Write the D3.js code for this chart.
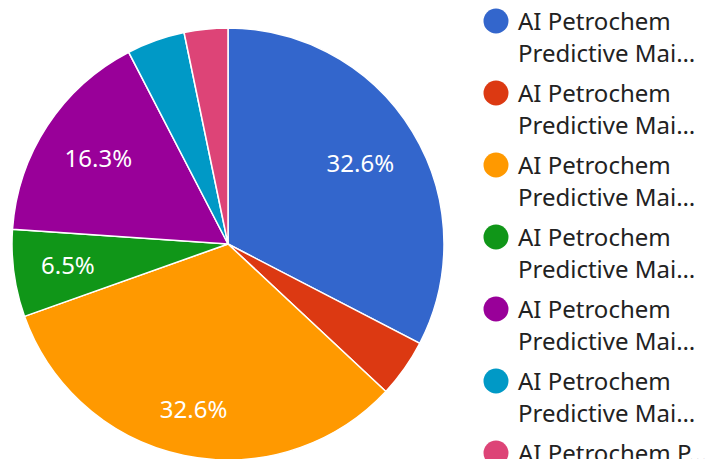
<!DOCTYPE html>
<html>
<head>
<meta charset="utf-8">
<script src="https://cdn.jsdelivr.net/npm/d3@7"></script>
<style>
  html, body { margin: 0; padding: 0; background: #fff; overflow: hidden; }
  svg { display: block; font-family: "Noto Sans", "Open Sans", sans-serif; }
</style>
</head>
<body>
<div id="chart"></div>
<script>
// Slice data
const categories = [
  "AI Petrochem Predictive Maintenance - Pumps",
  "AI Petrochem Predictive Maintenance - Valves",
  "AI Petrochem Predictive Maintenance - Compressors",
  "AI Petrochem Predictive Maintenance - Heat Exchangers",
  "AI Petrochem Predictive Maintenance - Turbines",
  "AI Petrochem Predictive Maintenance - Pipelines",
  "AI Petrochem Predictive Maintenance - Reactors"
];
const values = [30, 4, 30, 6, 15, 4, 3];
const colors = ["#3366cc", "#dc3912", "#ff9900", "#109618", "#990099", "#0099c6", "#dd4477"];

const width = 712, height = 459;
const cx = 228, cy = 244, radius = 216;
const fontSize = 24;

const svg = d3.select("#chart")
  .append("svg")
  .attr("width", width)
  .attr("height", height);

const measure = svg.append("text").style("font-size", fontSize + "px").attr("visibility", "hidden");
function textWidth(s) {
  measure.text(s);
  return measure.node().getComputedTextLength();
}

const total = d3.sum(values);
const pie = d3.pie().sort(null).value(d => d.value);
const arcs = pie(categories.map((c, i) => ({ name: c, value: values[i], color: colors[i] })));

const arc = d3.arc().innerRadius(0).outerRadius(radius);

const g = svg.append("g").attr("transform", `translate(${cx},${cy})`);

g.selectAll("path")
  .data(arcs)
  .enter()
  .append("path")
  .attr("d", arc)
  .attr("fill", d => d.data.color)
  .attr("stroke", "#fff")
  .attr("stroke-width", 1.5);

// Slice labels: push the text box out until its far corner touches an inner circle
const pct = d3.format(".1%");
const fitRadius = radius * 0.88;
function labelPos(d, label) {
  const a = (d.startAngle + d.endAngle) / 2;
  const s = Math.sin(a), c = -Math.cos(a);
  const hw = textWidth(label) / 2, hh = 12;
  const b = 2 * (hw * Math.abs(s) + hh * Math.abs(c));
  const k = hw * hw + hh * hh - fitRadius * fitRadius;
  const dist = (-b + Math.sqrt(b * b - 4 * k)) / 2;
  return [dist * s, dist * c];
}

g.selectAll("text.slice")
  .data(arcs.filter(d => d.value / total > 0.05))
  .enter()
  .append("text")
  .attr("class", "slice")
  .attr("transform", d => `translate(${labelPos(d, pct(d.value / total))})`)
  .attr("text-anchor", "middle")
  .attr("dy", "0.35em")
  .attr("fill", "#fff")
  .style("font-size", fontSize + "px")
  .text(d => pct(d.value / total));

// Legend
const legendX = 496, legendTop = 21, itemStep = 72, lineStep = 32;

function ellipsize(s, maxW) {
  if (textWidth(s) <= maxW) return s;
  let t = s;
  while (t.length > 1 && textWidth(t + "…") > maxW) t = t.slice(0, -1);
  return t.trimEnd() + "…";
}
function wrap(s, maxLines) {
  // single clipped line gets the full row width
  if (maxLines === 1) return [ellipsize(s, 196)];
  const maxW = 184;
  const words = s.split(" ");
  let first = words[0], i = 1;
  while (i < words.length && textWidth(first + " " + words[i]) <= maxW) {
    first += " " + words[i];
    i++;
  }
  const rest = words.slice(i).join(" ");
  return rest ? [first, ellipsize(rest, maxW)] : [first];
}

const legend = svg.selectAll(".legend")
  .data(arcs)
  .enter()
  .append("g")
  .attr("class", "legend")
  .attr("transform", (d, i) => `translate(${legendX},${legendTop + i * itemStep})`);

legend.append("circle")
  .attr("r", 12.5)
  .attr("fill", d => d.data.color);

legend.each(function (d, i) {
  const spaceLeft = height - (legendTop + i * itemStep);
  const lines = wrap(d.data.name, spaceLeft > 50 ? 2 : 1);
  const t = d3.select(this).append("text")
    .attr("x", 22)
    .attr("y", 9)
    .attr("fill", "#222")
    .style("font-size", fontSize + "px");
  lines.forEach((ln, k) => {
    t.append("tspan").attr("x", 22).attr("dy", k === 0 ? 0 : lineStep).text(ln);
  });
});

measure.remove();
</script>
</body>
</html>
